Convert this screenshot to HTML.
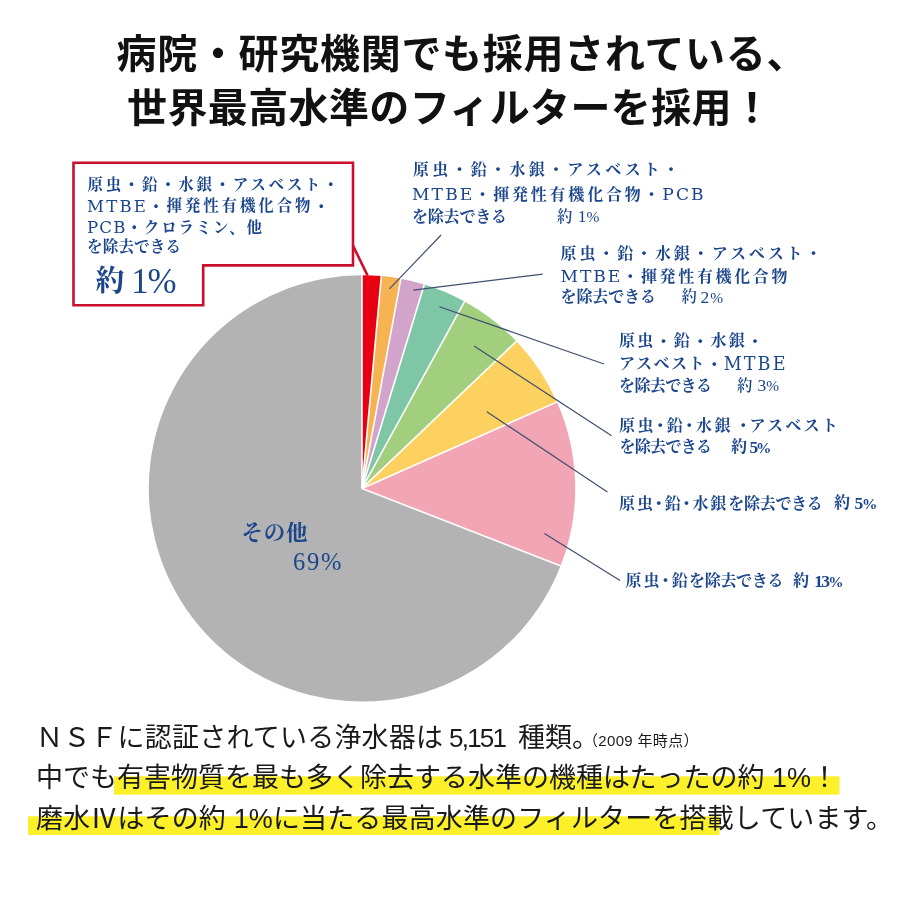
<!DOCTYPE html>
<html lang="ja"><head><meta charset="utf-8"><title>フィルター</title>
<style>
html,body{margin:0;padding:0;background:#fff;}
body{width:900px;height:900px;overflow:hidden;position:relative;}
svg{position:absolute;left:0;top:0;display:block;}
text{dominant-baseline:central;white-space:pre;}
.t{font-family:"Liberation Sans","Noto Sans CJK JP",sans-serif;font-weight:700;fill:#111;}
.b{font-family:"Liberation Serif","Noto Serif CJK JP","Noto Serif CJK SC",serif;font-weight:700;fill:#1c468c;}
.l{font-family:"Liberation Serif",serif;font-weight:400;}
.w{font-family:"DejaVu Serif","Liberation Serif",serif;font-weight:400;}
.d{font-weight:900;}
.m{font-weight:600;}
.g{font-family:"Liberation Sans","Noto Sans CJK JP",sans-serif;font-weight:400;fill:#1a1a1a;}
</style></head><body>
<svg width="900" height="900" viewBox="0 0 900 900">
<path d="M362,488.4 L362.00,275.20 A213.2,213.2 0 0 1 381.32,276.08 Z" fill="#e60012"/>
<path d="M362,488.4 L381.32,276.08 A213.2,213.2 0 0 1 400.85,278.77 Z" fill="#f6b352"/>
<path d="M362,488.4 L400.85,278.77 A213.2,213.2 0 0 1 424.33,284.52 Z" fill="#d3a4cb"/>
<path d="M362,488.4 L424.33,284.52 A213.2,213.2 0 0 1 464.55,301.48 Z" fill="#7fc6a6"/>
<path d="M362,488.4 L464.55,301.48 A213.2,213.2 0 0 1 516.39,341.37 Z" fill="#a1cf7e"/>
<path d="M362,488.4 L516.39,341.37 A213.2,213.2 0 0 1 556.92,402.02 Z" fill="#fcd15f"/>
<path d="M362,488.4 L556.92,402.02 A213.2,213.2 0 0 1 560.64,565.85 Z" fill="#f2a5b4"/>
<path d="M362,488.4 L560.64,565.85 A213.2,213.2 0 1 1 362.00,275.20 Z" fill="#b3b3b3"/>
<line x1="362" y1="488.4" x2="362.00" y2="274.20" stroke="#fff" stroke-width="1.6"/>
<line x1="362" y1="488.4" x2="381.41" y2="275.08" stroke="#fff" stroke-width="1.6"/>
<line x1="362" y1="488.4" x2="401.03" y2="277.79" stroke="#fff" stroke-width="1.6"/>
<line x1="362" y1="488.4" x2="424.63" y2="283.56" stroke="#fff" stroke-width="1.6"/>
<line x1="362" y1="488.4" x2="465.03" y2="300.61" stroke="#fff" stroke-width="1.6"/>
<line x1="362" y1="488.4" x2="517.12" y2="340.68" stroke="#fff" stroke-width="1.6"/>
<line x1="362" y1="488.4" x2="557.83" y2="401.62" stroke="#fff" stroke-width="1.6"/>
<line x1="362" y1="488.4" x2="561.57" y2="566.21" stroke="#fff" stroke-width="1.6"/>
<line x1="441.1" y1="235" x2="389.4" y2="288.9" stroke="#40506f" stroke-width="1.2"/>
<line x1="542.7" y1="274.1" x2="413.3" y2="290.1" stroke="#40506f" stroke-width="1.2"/>
<line x1="604" y1="364" x2="439.5" y2="306.7" stroke="#40506f" stroke-width="1.2"/>
<line x1="611.6" y1="435.7" x2="474.1" y2="346.1" stroke="#40506f" stroke-width="1.2"/>
<line x1="607.4" y1="492" x2="486.9" y2="411.8" stroke="#40506f" stroke-width="1.2"/>
<line x1="620.1" y1="580.5" x2="544.4" y2="533.5" stroke="#40506f" stroke-width="1.2"/>
<path d="M73.5,162.8 H353 V265.4 H203.2 V305.2 H73.5 Z" fill="#fff" stroke="#c9102b" stroke-width="2.6" stroke-linejoin="miter"/>
<line x1="353" y1="245.6" x2="367.6" y2="275.6" stroke="#c9102b" stroke-width="2.6"/>
<rect x="114" y="776.3" width="725.5" height="18.3" fill="#fcf02b"/>
<rect x="28" y="816.3" width="691.5" height="18.7" fill="#fcf02b"/>
<text class="t" x="116.5" y="53.9" font-size="40" textLength="690" lengthAdjust="spacing">病院・研究機関でも採用されている、</text>
<text class="t" x="127" y="107.5" font-size="40" textLength="645" lengthAdjust="spacing">世界最高水準のフィルターを採用！</text>
<text class="b" x="87.5" y="184" font-size="15.5" textLength="251" lengthAdjust="spacing">原虫<tspan class="d">・</tspan>鉛<tspan class="d">・</tspan>水銀<tspan class="d">・</tspan>アスベスト<tspan class="d">・</tspan></text>
<text class="b" x="87" y="205.7" font-size="15.5" textLength="242" lengthAdjust="spacing"><tspan class="w" font-size="1.07em" letter-spacing="-0.04em">MTBE</tspan><tspan class="d">・</tspan>揮発性有機化合物<tspan class="d">・</tspan></text>
<text class="b" x="87" y="227.3" font-size="15.5" textLength="175" lengthAdjust="spacing"><tspan class="w" font-size="1.07em" letter-spacing="-0.04em">PCB</tspan><tspan class="d">・</tspan>クロラミン、他</text>
<text class="b" x="87" y="246.7" font-size="15.5" textLength="94" lengthAdjust="spacing">を除去できる</text>
<text class="b" x="95.5" y="281.2" font-size="29" textLength="81" lengthAdjust="spacing">約<tspan class="l" font-size="1.2em"> 1%</tspan></text>
<text class="b" x="413" y="169.3" font-size="16" textLength="266" lengthAdjust="spacing">原虫<tspan class="d">・</tspan>鉛<tspan class="d">・</tspan>水銀<tspan class="d">・</tspan>アスベスト<tspan class="d">・</tspan></text>
<text class="b" x="412" y="194" font-size="16" textLength="291" lengthAdjust="spacing"><tspan class="w" font-size="1.07em" letter-spacing="-0.04em">MTBE</tspan><tspan class="d">・</tspan>揮発性有機化合物<tspan class="d">・</tspan><tspan class="w" font-size="1.07em" letter-spacing="-0.04em">PCB</tspan></text>
<text class="b" x="412" y="216.4" font-size="16" textLength="95" lengthAdjust="spacing">を除去できる</text>
<text class="b m" x="557" y="216.4" font-size="15.5">約</text>
<text class="b l" x="577.8" y="216.4" font-size="17.5" textLength="21.5" lengthAdjust="spacing">1<tspan font-size="0.88em">%</tspan></text>
<text class="b" x="560.5" y="253" font-size="16" textLength="261" lengthAdjust="spacing">原虫<tspan class="d">・</tspan>鉛<tspan class="d">・</tspan>水銀<tspan class="d">・</tspan>アスベスト<tspan class="d">・</tspan></text>
<text class="b" x="560.5" y="276.4" font-size="16" textLength="227" lengthAdjust="spacing"><tspan class="w" font-size="1.07em" letter-spacing="-0.04em">MTBE</tspan><tspan class="d">・</tspan>揮発性有機化合物</text>
<text class="b" x="560.5" y="296.6" font-size="16" textLength="95.5" lengthAdjust="spacing">を除去できる</text>
<text class="b m" x="681.5" y="296.6" font-size="15.5">約</text>
<text class="b l" x="700.5" y="296.6" font-size="17.5" textLength="22.5" lengthAdjust="spacing">2<tspan font-size="0.88em">%</tspan></text>
<text class="b" x="619" y="340.6" font-size="16" textLength="144" lengthAdjust="spacing">原虫<tspan class="d">・</tspan>鉛<tspan class="d">・</tspan>水銀<tspan class="d">・</tspan></text>
<text class="b" x="619" y="363.9" font-size="16" textLength="167" lengthAdjust="spacing">アスベスト<tspan class="d">・</tspan><tspan class="w" font-size="1.1em" letter-spacing="0.03em">MTBE</tspan></text>
<text class="b" x="619" y="385.3" font-size="16" textLength="93" lengthAdjust="spacing">を除去できる</text>
<text class="b m" x="737" y="385.3" font-size="15.5">約</text>
<text class="b l" x="757.5" y="385.3" font-size="17.5" textLength="21.5" lengthAdjust="spacing">3<tspan font-size="0.88em">%</tspan></text>
<text class="b" x="619" y="425.3" font-size="16" textLength="111.5" lengthAdjust="spacing">原虫<tspan class="d">･</tspan>鉛<tspan class="d">･</tspan>水銀</text>
<text class="b" x="739.3" y="425.3" font-size="16" textLength="98.5" lengthAdjust="spacing"><tspan class="d">･</tspan>アスベスト</text>
<text class="b" x="619.5" y="446.7" font-size="16" textLength="92.5" lengthAdjust="spacing">を除去できる</text>
<text class="b" x="731" y="446.7" font-size="16.2">約</text>
<text class="b l" x="749.5" y="446.7" font-size="17.5" style="font-weight:700" textLength="21.8" lengthAdjust="spacing">5<tspan font-size="0.88em">%</tspan></text>
<text class="b" x="619" y="503.2" font-size="16" textLength="107.3" lengthAdjust="spacing">原虫<tspan class="d">･</tspan>鉛<tspan class="d">･</tspan>水銀</text>
<text class="b" x="728.3" y="503.2" font-size="16" textLength="94.5" lengthAdjust="spacing">を除去できる</text>
<text class="b" x="834" y="503.2" font-size="16.2">約</text>
<text class="b l" x="854.4" y="503.2" font-size="17.5" style="font-weight:700" textLength="22.9" lengthAdjust="spacing">5<tspan font-size="0.88em">%</tspan></text>
<text class="b" x="625.5" y="580.3" font-size="16" textLength="62.2" lengthAdjust="spacing">原虫<tspan class="d">･</tspan>鉛</text>
<text class="b" x="689" y="580.3" font-size="16" textLength="94.5" lengthAdjust="spacing">を除去できる</text>
<text class="b" x="793" y="580.6" font-size="16.2">約</text>
<text class="b l" x="814.2" y="580.6" font-size="17.5" style="font-weight:700" textLength="29.4" lengthAdjust="spacing">13<tspan font-size="0.88em">%</tspan></text>
<text class="b" x="241.5" y="532.5" font-size="21.5" textLength="66" lengthAdjust="spacing">その他</text>
<text class="b" x="293" y="560.8" font-size="24.5" textLength="48.5" lengthAdjust="spacing"><tspan class="l" font-size="1em">69%</tspan></text>
<text class="g" x="36" y="738" font-size="27" textLength="407" lengthAdjust="spacing">ＮＳＦに認証されている浄水器は</text>
<text class="g" x="449" y="738" font-size="26" textLength="58" lengthAdjust="spacing">5,151</text>
<text class="g" x="518" y="738" font-size="27">種類。</text>
<text class="g" x="583" y="740.8" font-size="15" textLength="115.5" lengthAdjust="spacing">（2009 年時点）</text>
<text class="g" x="36" y="777.7" font-size="27">中でも有害物質を最も多く除去する水準の機種はたったの約 1%！</text>
<text class="g" x="36" y="819.3" font-size="27" textLength="857" lengthAdjust="spacing">磨水Ⅳはその約 1%に当たる最高水準のフィルターを搭載しています。</text>
</svg>
</body></html>
